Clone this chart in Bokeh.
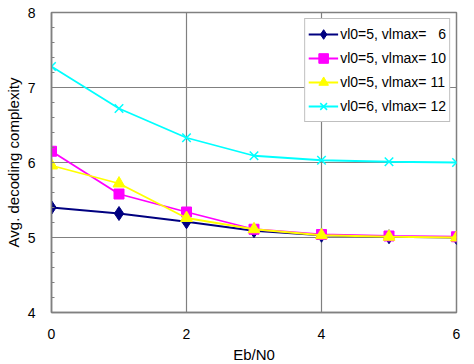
from bokeh.plotting import figure
from bokeh.models import FixedTicker, Range1d, Title
from bokeh.embed import file_html
from bokeh.resources import INLINE

ebn0 = [0, 1, 2, 3, 4, 5, 6]
s_6 = [5.40, 5.32, 5.21, 5.09, 5.03, 5.01, 5.00]
s_10 = [6.15, 5.58, 5.34, 5.11, 5.04, 5.02, 5.01]
s_11 = [5.96, 5.72, 5.26, 5.11, 5.03, 5.01, 5.00]
s_12 = [7.28, 6.72, 6.33, 6.09, 6.03, 6.01, 6.00]
labels = ["vl0=5, vlmax= \u00a0\u00a06", "vl0=5, vlmax= 10", "vl0=5, vlmax= 11", "vl0=6, vlmax= 12"]
x_ticks = [0, 2, 4, 6]
y_ticks = [4, 5, 6, 7, 8]
y_minor = [round(4 + 0.2 * i, 1) for i in range(21)]
x_title = "Eb/N0"
y_title = "Avg. decoding complexity"

FONT = "Liberation Sans"
GRID = "#808080"

p = figure(width=474, height=364, output_backend="svg", toolbar_location=None,
           x_range=Range1d(0, 6), y_range=Range1d(4, 8),
           min_border_left=51, min_border_right=18, min_border_top=12, min_border_bottom=0)
p.background_fill_color = "white"
p.border_fill_color = "white"
p.outline_line_color = GRID
p.outline_line_width = 1.5

p.xaxis.ticker = FixedTicker(ticks=x_ticks)
p.yaxis.ticker = FixedTicker(ticks=y_ticks, minor_ticks=y_minor)
p.xgrid.ticker = FixedTicker(ticks=x_ticks)
p.ygrid.ticker = FixedTicker(ticks=y_ticks)
for g in (p.xgrid, p.ygrid):
    g.grid_line_color = GRID
    g.grid_line_width = 1.2

for ax in (p.xaxis, p.yaxis):
    ax.axis_line_color = GRID
    ax.axis_line_width = 1.5
    ax.major_tick_out = 0
    ax.major_tick_in = 0
    ax.major_label_text_font = FONT
    ax.major_label_text_font_size = "14px"
    ax.major_label_text_color = "black"
    ax.axis_label_text_font = FONT
    ax.axis_label_text_font_size = "15px"
    ax.axis_label_text_font_style = "normal"
    ax.axis_label_text_color = "black"
p.xaxis.minor_tick_line_color = None
p.xaxis.minor_tick_out = 0
p.xaxis.minor_tick_in = 0
p.xaxis.axis_label = None
p.yaxis.minor_tick_in = 3
p.yaxis.minor_tick_out = 0
p.yaxis.minor_tick_line_color = GRID
p.yaxis.minor_tick_line_width = 1.2
p.xaxis.major_label_standoff = 16
p.yaxis.major_label_standoff = 16
p.yaxis.axis_label_standoff = 3
p.yaxis.axis_label = y_title

p.add_layout(Title(text=x_title, align="center", text_font=FONT, text_font_size="15px",
                   text_font_style="normal", text_color="black", standoff=4), "below")

p.line(ebn0, s_6, color="#000080", line_width=1.8, legend_label=labels[0])
p.scatter(ebn0, s_6, marker="diamond", size=14, color="#000080", legend_label=labels[0])
p.line(ebn0, s_10, color="#FF00FF", line_width=1.8, legend_label=labels[1])
p.scatter(ebn0, s_10, marker="square", size=10, color="#FF00FF", legend_label=labels[1])
p.line(ebn0, s_11, color="#FFFF00", line_width=1.8, legend_label=labels[2])
p.scatter(ebn0, s_11, marker="triangle", size=12, color="#FFFF00", legend_label=labels[2])
p.line(ebn0, s_12, color="#00FFFF", line_width=1.8, legend_label=labels[3])
p.scatter(ebn0, s_12, marker="x", size=12, color="#00FFFF", line_width=1.5, legend_label=labels[3])

lg = p.legend[0]
lg.location = "top_right"
lg.margin = 6
lg.padding = 3
lg.spacing = 0
lg.glyph_width = 30
lg.glyph_height = 24
lg.label_height = 20
lg.label_standoff = 2
lg.label_text_font = FONT
lg.label_text_font_size = "14px"
lg.label_text_color = "black"
lg.border_line_color = GRID
lg.border_line_width = 1.5
lg.background_fill_alpha = 1.0

open("out.html", "w").write(file_html(p, INLINE))
